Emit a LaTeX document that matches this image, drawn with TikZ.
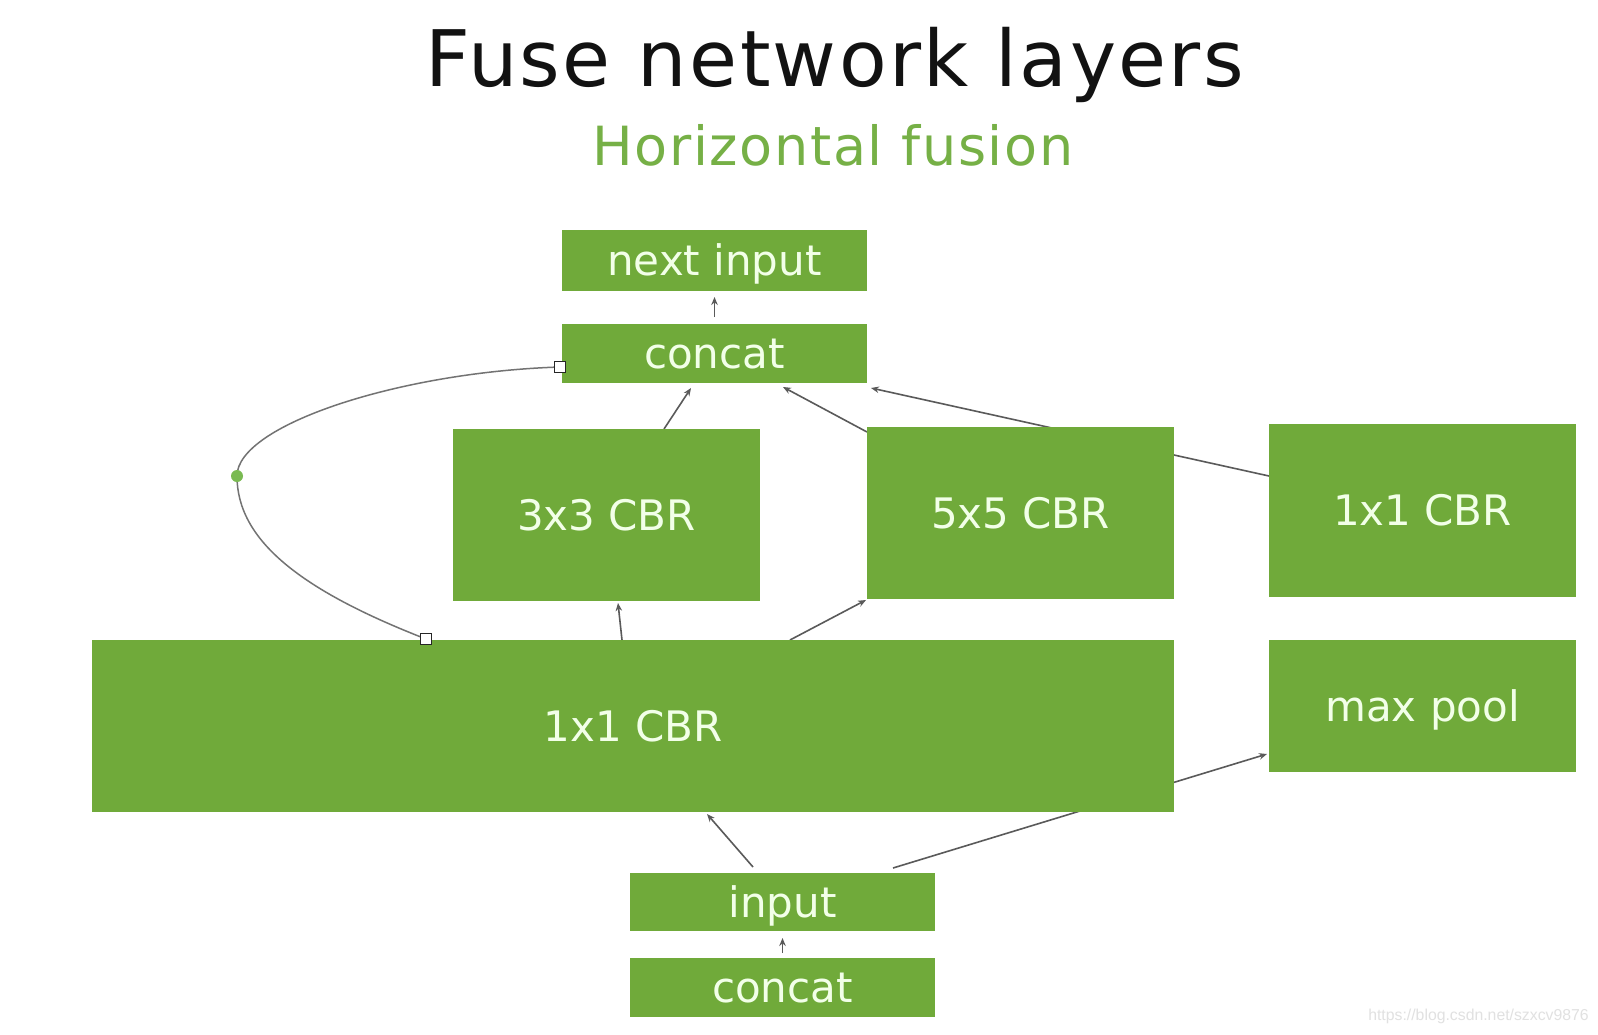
\documentclass[tikz,border=0pt]{standalone}
\usepackage{fontspec}
\usepackage{graphicx}
\setmainfont{DejaVu Sans}
\newfontfamily\titlefont{DejaVu Sans}[LetterSpace=3]
\newfontfamily\subfont{DejaVu Sans}[LetterSpace=3]
\newfontfamily\wmfont{Liberation Sans}
\usetikzlibrary{arrows.meta,calc}
\definecolor{boxgreen}{RGB}{112,170,58}
\definecolor{subgreen}{RGB}{118,176,70}
\definecolor{boxtext}{RGB}{242,255,232}
\definecolor{wire}{RGB}{90,90,90}
\definecolor{wmgray}{RGB}{225,225,225}
\definecolor{dotgreen}{RGB}{122,186,82}
\pgfdeclarelayer{bg}
\pgfdeclarelayer{wires}
\pgfsetlayers{bg,wires,main}
\begin{document}
\begin{tikzpicture}[x=1pt,y=-1pt,
  blk/.style={fill=boxgreen,draw=none,inner sep=0pt,outer sep=0pt,text=boxtext,text height=30pt,text depth=0pt,font=\fontsize{42}{48}\selectfont},
  wirearrow/.style={draw=wire,line width=1.6pt,-{Stealth[length=8pt,width=6.5pt]}},
  curvewire/.style={draw=wire!85,line width=1.5pt},
  handle/.style={draw=black!85,fill=white,line width=1.8pt,minimum size=11pt,inner sep=0pt,outer sep=0pt},
  gdot/.style={circle,fill=dotgreen,minimum size=12pt,inner sep=0pt},
  txt/.style={inner sep=0pt,outer sep=0pt}]
\begin{pgfonlayer}{bg}
\fill[white] (0,0) rectangle (1598,1034);
\end{pgfonlayer}
\useasboundingbox (0,0) rectangle (1598,1034);

% titles
\node[txt,anchor=base,text=black!93,font=\titlefont\fontsize{78}{86}\selectfont] (title) at (834.5,86) {Fuse network layers};
\node[txt,anchor=base,text=subgreen,font=\subfont\fontsize{54}{60}\selectfont] (sub) at (833,165) {Horizontal fusion};

% boxes
\node[blk,minimum width=305pt,minimum height=61pt] (nxt) at (714.5,260.5) {next input};
\node[blk,minimum width=305pt,minimum height=59pt] (cat1) at (714.5,353.5) {concat};
\node[blk,minimum width=307pt,minimum height=172pt] (c3) at (606.5,515) {3x3 CBR};
\node[blk,minimum width=307pt,minimum height=172pt] (c5) at (1020.5,513) {5x5 CBR};
\node[blk,minimum width=307pt,minimum height=173pt] (c1r) at (1422.5,510.5) {1x1 CBR};
\node[blk,minimum width=1082pt,minimum height=172pt] (big) at (633,726) {1x1 CBR};
\node[blk,minimum width=307pt,minimum height=132pt] (mp) at (1422.5,706) {max pool};
\node[blk,minimum width=305pt,minimum height=58pt] (inp) at (782.5,902) {input};
\node[blk,minimum width=305pt,minimum height=59pt] (cat2) at (782.5,987.5) {concat};

% connectors
\begin{pgfonlayer}{wires}
\draw[wirearrow] ($(cat1.north)+(0,-7)$) -- ($(nxt.south)+(0,6)$);
\draw[wirearrow] ($(c3.north west)+(211,0)$) -- ($(cat1.south west)+(129,5)$);
\draw[wirearrow] ($(c5.north west)+(0,5)$) -- ($(cat1.south west)+(221,4)$);
\draw[wirearrow] ($(c1r.north west)+(0,52)$) -- ($(cat1.south east)+(4,5)$);
\draw[wirearrow] ($(big.north west)+(530,0)$) -- ($(c3.south west)+(165,2)$);
\draw[wirearrow] ($(big.north west)+(698,0)$) -- ($(c5.south west)+(-1,1)$);
\draw[wirearrow] ($(inp.north west)+(263,-5)$) -- ($(mp.north west)+(-2,114)$);
\draw[wirearrow] ($(inp.north west)+(123,-6)$) -- ($(big.south west)+(615,2)$);
\draw[wirearrow] ($(cat2.north)+(0,-5)$) -- ($(inp.south)+(0,7)$);
\end{pgfonlayer}

% selected curved connector
\coordinate (cs) at ($(cat1.west)+(-2,13.5)$);
\coordinate (ce) at ($(big.north west)+(334,-1)$);
\coordinate (cm) at (237,476);
\draw[curvewire] (cs) .. controls (400,372) and (237,425) .. (cm) .. controls (237,540) and (300,590) .. (ce);
\node[handle] (hs) at (cs) {};
\node[handle] (he) at (ce) {};
\node[gdot] (hm) at (cm) {};

% watermark
\node[txt,text=wmgray,font=\wmfont\fontsize{15.8}{19}\selectfont] (wm) at (1478.5,1016) {https://blog.csdn.net/szxcv9876};
\end{tikzpicture}
\end{document}
